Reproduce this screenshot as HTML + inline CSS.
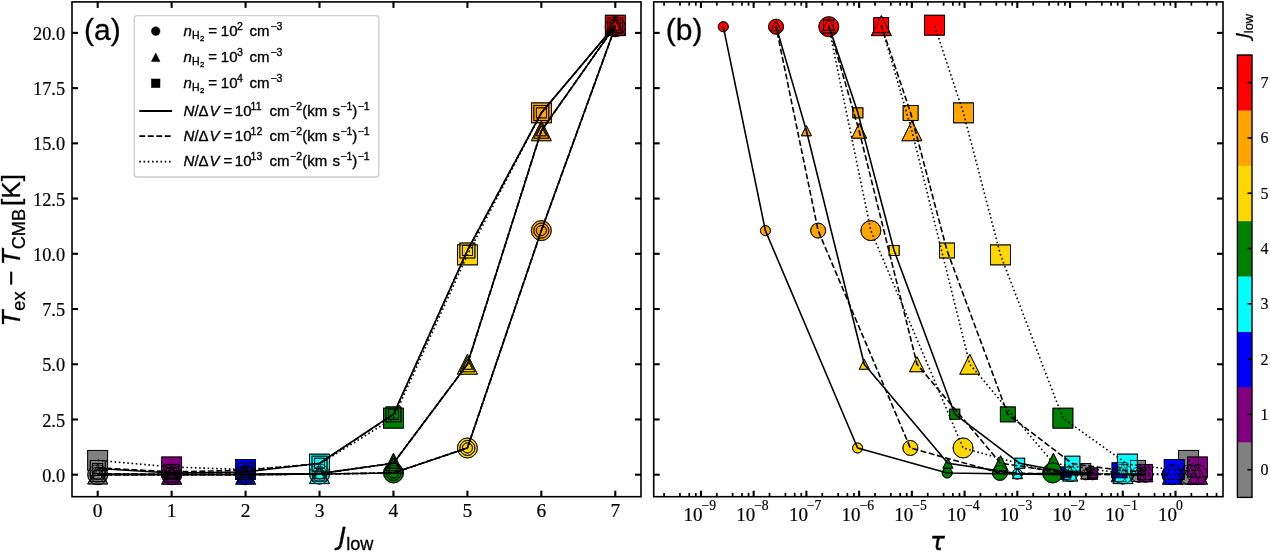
<!DOCTYPE html>
<html lang="en"><head><meta charset="utf-8"><title>T_ex - T_CMB vs J_low and tau</title>
<style>html,body{margin:0;padding:0;background:#fff;}svg{display:block;}.tk{font-family:"Liberation Serif", "DejaVu Serif", serif;font-size:19.5px;fill:#000;stroke:#000;stroke-width:0.2px;}.ck{font-family:"Liberation Serif", "DejaVu Serif", serif;font-size:16px;fill:#000;stroke:#000;stroke-width:0.15px;}.sn{font-family:"Liberation Sans", "DejaVu Sans", sans-serif;fill:#000;}.i{font-style:italic;}.dj{font-family:"DejaVu Sans", sans-serif;font-style:italic;stroke:none;}</style></head><body>
<svg width="1270" height="553" viewBox="0 0 1270 553" role="img" aria-label="Excitation temperature versus J_low and optical depth">
<rect x="0" y="0" width="1270" height="553" fill="#fff"/>
<defs>
<clipPath id="ca"><rect x="72.0" y="1.9" width="569.0" height="494.8"/></clipPath>
<clipPath id="cb"><rect x="653.7" y="1.9" width="569.3" height="494.8"/></clipPath>
</defs>
<g clip-path="url(#ca)">
<circle cx="97.70" cy="474.70" r="10.00" fill="#808080" stroke="#000" stroke-width="0.75"/>
<circle cx="97.70" cy="474.70" r="7.50" fill="#808080" stroke="#000" stroke-width="0.75"/>
<circle cx="97.70" cy="474.70" r="5.05" fill="#808080" stroke="#000" stroke-width="0.75"/>
<circle cx="171.64" cy="474.70" r="10.00" fill="#800080" stroke="#000" stroke-width="0.75"/>
<circle cx="171.64" cy="474.70" r="7.50" fill="#800080" stroke="#000" stroke-width="0.75"/>
<circle cx="171.64" cy="474.70" r="5.05" fill="#800080" stroke="#000" stroke-width="0.75"/>
<circle cx="245.58" cy="474.70" r="10.00" fill="#0000ff" stroke="#000" stroke-width="0.75"/>
<circle cx="245.58" cy="474.70" r="7.50" fill="#0000ff" stroke="#000" stroke-width="0.75"/>
<circle cx="245.58" cy="474.70" r="5.05" fill="#0000ff" stroke="#000" stroke-width="0.75"/>
<circle cx="319.52" cy="474.04" r="10.00" fill="#00ffff" stroke="#000" stroke-width="0.75"/>
<circle cx="319.52" cy="474.04" r="7.50" fill="#00ffff" stroke="#000" stroke-width="0.75"/>
<circle cx="319.52" cy="474.04" r="5.05" fill="#00ffff" stroke="#000" stroke-width="0.75"/>
<circle cx="393.46" cy="472.93" r="10.00" fill="#008000" stroke="#000" stroke-width="0.75"/>
<circle cx="393.46" cy="472.93" r="7.50" fill="#008000" stroke="#000" stroke-width="0.75"/>
<circle cx="393.46" cy="472.93" r="5.05" fill="#008000" stroke="#000" stroke-width="0.75"/>
<circle cx="467.40" cy="447.97" r="10.00" fill="#ffd700" stroke="#000" stroke-width="0.75"/>
<circle cx="467.40" cy="447.97" r="7.50" fill="#ffd700" stroke="#000" stroke-width="0.75"/>
<circle cx="467.40" cy="447.97" r="5.05" fill="#ffd700" stroke="#000" stroke-width="0.75"/>
<circle cx="541.34" cy="230.61" r="10.00" fill="#ffa500" stroke="#000" stroke-width="0.75"/>
<circle cx="541.34" cy="230.61" r="7.50" fill="#ffa500" stroke="#000" stroke-width="0.75"/>
<circle cx="541.34" cy="230.61" r="5.05" fill="#ffa500" stroke="#000" stroke-width="0.75"/>
<circle cx="615.28" cy="26.71" r="10.00" fill="#ff0000" stroke="#000" stroke-width="0.75"/>
<circle cx="615.28" cy="26.71" r="7.50" fill="#ff0000" stroke="#000" stroke-width="0.75"/>
<circle cx="615.28" cy="26.71" r="5.05" fill="#ff0000" stroke="#000" stroke-width="0.75"/>
<path d="M97.70 464.04L87.70 484.04L107.70 484.04Z" fill="#808080" stroke="#000" stroke-width="0.75" stroke-linejoin="miter"/>
<path d="M97.70 466.54L90.20 481.54L105.20 481.54Z" fill="#808080" stroke="#000" stroke-width="0.75" stroke-linejoin="miter"/>
<path d="M97.70 468.99L92.65 479.09L102.75 479.09Z" fill="#808080" stroke="#000" stroke-width="0.75" stroke-linejoin="miter"/>
<path d="M171.64 464.26L161.64 484.26L181.64 484.26Z" fill="#800080" stroke="#000" stroke-width="0.75" stroke-linejoin="miter"/>
<path d="M171.64 466.76L164.14 481.76L179.14 481.76Z" fill="#800080" stroke="#000" stroke-width="0.75" stroke-linejoin="miter"/>
<path d="M171.64 469.21L166.59 479.31L176.69 479.31Z" fill="#800080" stroke="#000" stroke-width="0.75" stroke-linejoin="miter"/>
<path d="M245.58 464.26L235.58 484.26L255.58 484.26Z" fill="#0000ff" stroke="#000" stroke-width="0.75" stroke-linejoin="miter"/>
<path d="M245.58 466.76L238.08 481.76L253.08 481.76Z" fill="#0000ff" stroke="#000" stroke-width="0.75" stroke-linejoin="miter"/>
<path d="M245.58 469.21L240.53 479.31L250.63 479.31Z" fill="#0000ff" stroke="#000" stroke-width="0.75" stroke-linejoin="miter"/>
<path d="M319.52 463.60L309.52 483.60L329.52 483.60Z" fill="#00ffff" stroke="#000" stroke-width="0.75" stroke-linejoin="miter"/>
<path d="M319.52 466.10L312.02 481.10L327.02 481.10Z" fill="#00ffff" stroke="#000" stroke-width="0.75" stroke-linejoin="miter"/>
<path d="M319.52 468.55L314.47 478.65L324.57 478.65Z" fill="#00ffff" stroke="#000" stroke-width="0.75" stroke-linejoin="miter"/>
<path d="M393.46 453.21L383.46 473.21L403.46 473.21Z" fill="#008000" stroke="#000" stroke-width="0.75" stroke-linejoin="miter"/>
<path d="M393.46 455.71L385.96 470.71L400.96 470.71Z" fill="#008000" stroke="#000" stroke-width="0.75" stroke-linejoin="miter"/>
<path d="M393.46 458.16L388.41 468.26L398.51 468.26Z" fill="#008000" stroke="#000" stroke-width="0.75" stroke-linejoin="miter"/>
<path d="M467.40 354.25L457.40 374.25L477.40 374.25Z" fill="#ffd700" stroke="#000" stroke-width="0.75" stroke-linejoin="miter"/>
<path d="M467.40 356.75L459.90 371.75L474.90 371.75Z" fill="#ffd700" stroke="#000" stroke-width="0.75" stroke-linejoin="miter"/>
<path d="M467.40 359.20L462.35 369.30L472.45 369.30Z" fill="#ffd700" stroke="#000" stroke-width="0.75" stroke-linejoin="miter"/>
<path d="M541.34 120.76L531.34 140.76L551.34 140.76Z" fill="#ffa500" stroke="#000" stroke-width="0.75" stroke-linejoin="miter"/>
<path d="M541.34 123.26L533.84 138.26L548.84 138.26Z" fill="#ffa500" stroke="#000" stroke-width="0.75" stroke-linejoin="miter"/>
<path d="M541.34 125.71L536.29 135.81L546.39 135.81Z" fill="#ffa500" stroke="#000" stroke-width="0.75" stroke-linejoin="miter"/>
<path d="M615.28 15.61L605.28 35.61L625.28 35.61Z" fill="#ff0000" stroke="#000" stroke-width="0.75" stroke-linejoin="miter"/>
<path d="M615.28 18.11L607.78 33.11L622.78 33.11Z" fill="#ff0000" stroke="#000" stroke-width="0.75" stroke-linejoin="miter"/>
<path d="M615.28 20.56L610.23 30.66L620.33 30.66Z" fill="#ff0000" stroke="#000" stroke-width="0.75" stroke-linejoin="miter"/>
<rect x="87.70" y="450.34" width="20.00" height="20.00" fill="#808080" stroke="#000" stroke-width="0.75"/>
<rect x="90.20" y="460.35" width="15.00" height="15.00" fill="#808080" stroke="#000" stroke-width="0.75"/>
<rect x="92.65" y="463.46" width="10.10" height="10.10" fill="#808080" stroke="#000" stroke-width="0.75"/>
<rect x="161.64" y="456.97" width="20.00" height="20.00" fill="#800080" stroke="#000" stroke-width="0.75"/>
<rect x="164.14" y="464.33" width="15.00" height="15.00" fill="#800080" stroke="#000" stroke-width="0.75"/>
<rect x="166.59" y="467.88" width="10.10" height="10.10" fill="#800080" stroke="#000" stroke-width="0.75"/>
<rect x="235.58" y="459.62" width="20.00" height="20.00" fill="#0000ff" stroke="#000" stroke-width="0.75"/>
<rect x="238.08" y="462.78" width="15.00" height="15.00" fill="#0000ff" stroke="#000" stroke-width="0.75"/>
<rect x="240.53" y="467.00" width="10.10" height="10.10" fill="#0000ff" stroke="#000" stroke-width="0.75"/>
<rect x="309.52" y="454.10" width="20.00" height="20.00" fill="#00ffff" stroke="#000" stroke-width="0.75"/>
<rect x="312.02" y="456.15" width="15.00" height="15.00" fill="#00ffff" stroke="#000" stroke-width="0.75"/>
<rect x="314.47" y="458.16" width="10.10" height="10.10" fill="#00ffff" stroke="#000" stroke-width="0.75"/>
<rect x="383.46" y="408.15" width="20.00" height="20.00" fill="#008000" stroke="#000" stroke-width="0.75"/>
<rect x="385.96" y="406.89" width="15.00" height="15.00" fill="#008000" stroke="#000" stroke-width="0.75"/>
<rect x="388.41" y="409.12" width="10.10" height="10.10" fill="#008000" stroke="#000" stroke-width="0.75"/>
<rect x="457.40" y="244.90" width="20.00" height="20.00" fill="#ffd700" stroke="#000" stroke-width="0.75"/>
<rect x="459.90" y="242.99" width="15.00" height="15.00" fill="#ffd700" stroke="#000" stroke-width="0.75"/>
<rect x="462.35" y="245.44" width="10.10" height="10.10" fill="#ffd700" stroke="#000" stroke-width="0.75"/>
<rect x="531.34" y="102.87" width="20.00" height="20.00" fill="#ffa500" stroke="#000" stroke-width="0.75"/>
<rect x="533.84" y="105.37" width="15.00" height="15.00" fill="#ffa500" stroke="#000" stroke-width="0.75"/>
<rect x="536.29" y="107.82" width="10.10" height="10.10" fill="#ffa500" stroke="#000" stroke-width="0.75"/>
<rect x="605.28" y="15.17" width="20.00" height="20.00" fill="#ff0000" stroke="#000" stroke-width="0.75"/>
<rect x="607.78" y="17.67" width="15.00" height="15.00" fill="#ff0000" stroke="#000" stroke-width="0.75"/>
<rect x="610.23" y="20.12" width="10.10" height="10.10" fill="#ff0000" stroke="#000" stroke-width="0.75"/>
<circle cx="97.70" cy="474.70" r="10.00" fill="none" stroke="#000" stroke-width="0.75"/>
<circle cx="97.70" cy="474.70" r="7.50" fill="none" stroke="#000" stroke-width="0.75"/>
<circle cx="97.70" cy="474.70" r="5.05" fill="none" stroke="#000" stroke-width="0.75"/>
<circle cx="171.64" cy="474.70" r="10.00" fill="none" stroke="#000" stroke-width="0.75"/>
<circle cx="171.64" cy="474.70" r="7.50" fill="none" stroke="#000" stroke-width="0.75"/>
<circle cx="171.64" cy="474.70" r="5.05" fill="none" stroke="#000" stroke-width="0.75"/>
<circle cx="245.58" cy="474.70" r="10.00" fill="none" stroke="#000" stroke-width="0.75"/>
<circle cx="245.58" cy="474.70" r="7.50" fill="none" stroke="#000" stroke-width="0.75"/>
<circle cx="245.58" cy="474.70" r="5.05" fill="none" stroke="#000" stroke-width="0.75"/>
<circle cx="319.52" cy="474.04" r="10.00" fill="none" stroke="#000" stroke-width="0.75"/>
<circle cx="319.52" cy="474.04" r="7.50" fill="none" stroke="#000" stroke-width="0.75"/>
<circle cx="319.52" cy="474.04" r="5.05" fill="none" stroke="#000" stroke-width="0.75"/>
<circle cx="393.46" cy="472.93" r="10.00" fill="none" stroke="#000" stroke-width="0.75"/>
<circle cx="393.46" cy="472.93" r="7.50" fill="none" stroke="#000" stroke-width="0.75"/>
<circle cx="393.46" cy="472.93" r="5.05" fill="none" stroke="#000" stroke-width="0.75"/>
<circle cx="467.40" cy="447.97" r="10.00" fill="none" stroke="#000" stroke-width="0.75"/>
<circle cx="467.40" cy="447.97" r="7.50" fill="none" stroke="#000" stroke-width="0.75"/>
<circle cx="467.40" cy="447.97" r="5.05" fill="none" stroke="#000" stroke-width="0.75"/>
<circle cx="541.34" cy="230.61" r="10.00" fill="none" stroke="#000" stroke-width="0.75"/>
<circle cx="541.34" cy="230.61" r="7.50" fill="none" stroke="#000" stroke-width="0.75"/>
<circle cx="541.34" cy="230.61" r="5.05" fill="none" stroke="#000" stroke-width="0.75"/>
<circle cx="615.28" cy="26.71" r="10.00" fill="none" stroke="#000" stroke-width="0.75"/>
<circle cx="615.28" cy="26.71" r="7.50" fill="none" stroke="#000" stroke-width="0.75"/>
<circle cx="615.28" cy="26.71" r="5.05" fill="none" stroke="#000" stroke-width="0.75"/>
<path d="M97.70 464.04L87.70 484.04L107.70 484.04Z" fill="none" stroke="#000" stroke-width="0.75" stroke-linejoin="miter"/>
<path d="M97.70 466.54L90.20 481.54L105.20 481.54Z" fill="none" stroke="#000" stroke-width="0.75" stroke-linejoin="miter"/>
<path d="M97.70 468.99L92.65 479.09L102.75 479.09Z" fill="none" stroke="#000" stroke-width="0.75" stroke-linejoin="miter"/>
<path d="M171.64 464.26L161.64 484.26L181.64 484.26Z" fill="none" stroke="#000" stroke-width="0.75" stroke-linejoin="miter"/>
<path d="M171.64 466.76L164.14 481.76L179.14 481.76Z" fill="none" stroke="#000" stroke-width="0.75" stroke-linejoin="miter"/>
<path d="M171.64 469.21L166.59 479.31L176.69 479.31Z" fill="none" stroke="#000" stroke-width="0.75" stroke-linejoin="miter"/>
<path d="M245.58 464.26L235.58 484.26L255.58 484.26Z" fill="none" stroke="#000" stroke-width="0.75" stroke-linejoin="miter"/>
<path d="M245.58 466.76L238.08 481.76L253.08 481.76Z" fill="none" stroke="#000" stroke-width="0.75" stroke-linejoin="miter"/>
<path d="M245.58 469.21L240.53 479.31L250.63 479.31Z" fill="none" stroke="#000" stroke-width="0.75" stroke-linejoin="miter"/>
<path d="M319.52 463.60L309.52 483.60L329.52 483.60Z" fill="none" stroke="#000" stroke-width="0.75" stroke-linejoin="miter"/>
<path d="M319.52 466.10L312.02 481.10L327.02 481.10Z" fill="none" stroke="#000" stroke-width="0.75" stroke-linejoin="miter"/>
<path d="M319.52 468.55L314.47 478.65L324.57 478.65Z" fill="none" stroke="#000" stroke-width="0.75" stroke-linejoin="miter"/>
<path d="M393.46 453.21L383.46 473.21L403.46 473.21Z" fill="none" stroke="#000" stroke-width="0.75" stroke-linejoin="miter"/>
<path d="M393.46 455.71L385.96 470.71L400.96 470.71Z" fill="none" stroke="#000" stroke-width="0.75" stroke-linejoin="miter"/>
<path d="M393.46 458.16L388.41 468.26L398.51 468.26Z" fill="none" stroke="#000" stroke-width="0.75" stroke-linejoin="miter"/>
<path d="M467.40 354.25L457.40 374.25L477.40 374.25Z" fill="none" stroke="#000" stroke-width="0.75" stroke-linejoin="miter"/>
<path d="M467.40 356.75L459.90 371.75L474.90 371.75Z" fill="none" stroke="#000" stroke-width="0.75" stroke-linejoin="miter"/>
<path d="M467.40 359.20L462.35 369.30L472.45 369.30Z" fill="none" stroke="#000" stroke-width="0.75" stroke-linejoin="miter"/>
<path d="M541.34 120.76L531.34 140.76L551.34 140.76Z" fill="none" stroke="#000" stroke-width="0.75" stroke-linejoin="miter"/>
<path d="M541.34 123.26L533.84 138.26L548.84 138.26Z" fill="none" stroke="#000" stroke-width="0.75" stroke-linejoin="miter"/>
<path d="M541.34 125.71L536.29 135.81L546.39 135.81Z" fill="none" stroke="#000" stroke-width="0.75" stroke-linejoin="miter"/>
<path d="M615.28 15.61L605.28 35.61L625.28 35.61Z" fill="none" stroke="#000" stroke-width="0.75" stroke-linejoin="miter"/>
<path d="M615.28 18.11L607.78 33.11L622.78 33.11Z" fill="none" stroke="#000" stroke-width="0.75" stroke-linejoin="miter"/>
<path d="M615.28 20.56L610.23 30.66L620.33 30.66Z" fill="none" stroke="#000" stroke-width="0.75" stroke-linejoin="miter"/>
<rect x="87.70" y="450.34" width="20.00" height="20.00" fill="none" stroke="#000" stroke-width="0.75"/>
<rect x="90.20" y="460.35" width="15.00" height="15.00" fill="none" stroke="#000" stroke-width="0.75"/>
<rect x="92.65" y="463.46" width="10.10" height="10.10" fill="none" stroke="#000" stroke-width="0.75"/>
<rect x="161.64" y="456.97" width="20.00" height="20.00" fill="none" stroke="#000" stroke-width="0.75"/>
<rect x="164.14" y="464.33" width="15.00" height="15.00" fill="none" stroke="#000" stroke-width="0.75"/>
<rect x="166.59" y="467.88" width="10.10" height="10.10" fill="none" stroke="#000" stroke-width="0.75"/>
<rect x="235.58" y="459.62" width="20.00" height="20.00" fill="none" stroke="#000" stroke-width="0.75"/>
<rect x="238.08" y="462.78" width="15.00" height="15.00" fill="none" stroke="#000" stroke-width="0.75"/>
<rect x="240.53" y="467.00" width="10.10" height="10.10" fill="none" stroke="#000" stroke-width="0.75"/>
<rect x="309.52" y="454.10" width="20.00" height="20.00" fill="none" stroke="#000" stroke-width="0.75"/>
<rect x="312.02" y="456.15" width="15.00" height="15.00" fill="none" stroke="#000" stroke-width="0.75"/>
<rect x="314.47" y="458.16" width="10.10" height="10.10" fill="none" stroke="#000" stroke-width="0.75"/>
<rect x="383.46" y="408.15" width="20.00" height="20.00" fill="none" stroke="#000" stroke-width="0.75"/>
<rect x="385.96" y="406.89" width="15.00" height="15.00" fill="none" stroke="#000" stroke-width="0.75"/>
<rect x="388.41" y="409.12" width="10.10" height="10.10" fill="none" stroke="#000" stroke-width="0.75"/>
<rect x="457.40" y="244.90" width="20.00" height="20.00" fill="none" stroke="#000" stroke-width="0.75"/>
<rect x="459.90" y="242.99" width="15.00" height="15.00" fill="none" stroke="#000" stroke-width="0.75"/>
<rect x="462.35" y="245.44" width="10.10" height="10.10" fill="none" stroke="#000" stroke-width="0.75"/>
<rect x="531.34" y="102.87" width="20.00" height="20.00" fill="none" stroke="#000" stroke-width="0.75"/>
<rect x="533.84" y="105.37" width="15.00" height="15.00" fill="none" stroke="#000" stroke-width="0.75"/>
<rect x="536.29" y="107.82" width="10.10" height="10.10" fill="none" stroke="#000" stroke-width="0.75"/>
<rect x="605.28" y="15.17" width="20.00" height="20.00" fill="none" stroke="#000" stroke-width="0.75"/>
<rect x="607.78" y="17.67" width="15.00" height="15.00" fill="none" stroke="#000" stroke-width="0.75"/>
<rect x="610.23" y="20.12" width="10.10" height="10.10" fill="none" stroke="#000" stroke-width="0.75"/>
<polyline points="97.70,474.70 171.64,474.70 245.58,474.70 319.52,474.04 393.46,472.93 467.40,447.97 541.34,230.61 615.28,26.71" fill="none" stroke="#000" stroke-width="1.6" stroke-linejoin="round"/>
<polyline points="97.70,474.70 171.64,474.70 245.58,474.70 319.52,474.04 393.46,472.93 467.40,447.97 541.34,230.61 615.28,26.71" fill="none" stroke="#000" stroke-width="1.6" stroke-linejoin="round" stroke-dasharray="5.92 2.56"/>
<polyline points="97.70,474.70 171.64,474.70 245.58,474.70 319.52,474.04 393.46,472.93 467.40,447.97 541.34,230.61 615.28,26.71" fill="none" stroke="#000" stroke-width="1.6" stroke-linejoin="round" stroke-dasharray="1.6 2.64"/>
<polyline points="97.70,474.04 171.64,474.26 245.58,474.26 319.52,473.60 393.46,463.21 467.40,364.25 541.34,130.76 615.28,25.61" fill="none" stroke="#000" stroke-width="1.6" stroke-linejoin="round"/>
<polyline points="97.70,474.04 171.64,474.26 245.58,474.26 319.52,473.60 393.46,463.21 467.40,364.25 541.34,130.76 615.28,25.61" fill="none" stroke="#000" stroke-width="1.6" stroke-linejoin="round" stroke-dasharray="5.92 2.56"/>
<polyline points="97.70,474.04 171.64,474.26 245.58,474.26 319.52,473.60 393.46,463.21 467.40,364.25 541.34,130.76 615.28,25.61" fill="none" stroke="#000" stroke-width="1.6" stroke-linejoin="round" stroke-dasharray="1.6 2.64"/>
<polyline points="97.70,468.51 171.64,472.93 245.58,472.05 319.52,463.21 393.46,414.17 467.40,250.49 541.34,112.87 615.28,25.17" fill="none" stroke="#000" stroke-width="1.6" stroke-linejoin="round"/>
<polyline points="97.70,467.85 171.64,471.83 245.58,470.28 319.52,463.65 393.46,414.39 467.40,250.49 541.34,112.87 615.28,25.17" fill="none" stroke="#000" stroke-width="1.6" stroke-linejoin="round" stroke-dasharray="5.92 2.56"/>
<polyline points="97.70,460.34 171.64,466.97 245.58,469.62 319.52,464.10 393.46,418.15 467.40,254.90 541.34,112.87 615.28,25.17" fill="none" stroke="#000" stroke-width="1.6" stroke-linejoin="round" stroke-dasharray="1.6 2.64"/>
</g>
<g clip-path="url(#cb)">
<circle cx="1190.00" cy="474.70" r="10.00" fill="#808080" stroke="#000" stroke-width="0.75"/>
<circle cx="1138.43" cy="474.70" r="7.50" fill="#808080" stroke="#000" stroke-width="0.75"/>
<circle cx="1085.70" cy="474.70" r="5.05" fill="#808080" stroke="#000" stroke-width="0.75"/>
<circle cx="1197.50" cy="474.70" r="10.00" fill="#800080" stroke="#000" stroke-width="0.75"/>
<circle cx="1145.43" cy="474.70" r="7.50" fill="#800080" stroke="#000" stroke-width="0.75"/>
<circle cx="1092.70" cy="474.70" r="5.05" fill="#800080" stroke="#000" stroke-width="0.75"/>
<circle cx="1172.00" cy="474.70" r="10.00" fill="#0000ff" stroke="#000" stroke-width="0.75"/>
<circle cx="1118.73" cy="474.70" r="7.50" fill="#0000ff" stroke="#000" stroke-width="0.75"/>
<circle cx="1066.00" cy="474.70" r="5.05" fill="#0000ff" stroke="#000" stroke-width="0.75"/>
<circle cx="1122.76" cy="474.04" r="10.00" fill="#00ffff" stroke="#000" stroke-width="0.75"/>
<circle cx="1070.03" cy="474.04" r="7.50" fill="#00ffff" stroke="#000" stroke-width="0.75"/>
<circle cx="1017.30" cy="474.04" r="5.05" fill="#00ffff" stroke="#000" stroke-width="0.75"/>
<circle cx="1052.66" cy="472.93" r="10.00" fill="#008000" stroke="#000" stroke-width="0.75"/>
<circle cx="999.93" cy="472.93" r="7.50" fill="#008000" stroke="#000" stroke-width="0.75"/>
<circle cx="947.20" cy="472.93" r="5.05" fill="#008000" stroke="#000" stroke-width="0.75"/>
<circle cx="963.06" cy="447.97" r="10.00" fill="#ffd700" stroke="#000" stroke-width="0.75"/>
<circle cx="910.33" cy="447.97" r="7.50" fill="#ffd700" stroke="#000" stroke-width="0.75"/>
<circle cx="857.60" cy="447.97" r="5.05" fill="#ffd700" stroke="#000" stroke-width="0.75"/>
<circle cx="870.86" cy="230.61" r="10.00" fill="#ffa500" stroke="#000" stroke-width="0.75"/>
<circle cx="818.13" cy="230.61" r="7.50" fill="#ffa500" stroke="#000" stroke-width="0.75"/>
<circle cx="765.40" cy="230.61" r="5.05" fill="#ffa500" stroke="#000" stroke-width="0.75"/>
<circle cx="828.76" cy="26.71" r="10.00" fill="#ff0000" stroke="#000" stroke-width="0.75"/>
<circle cx="776.03" cy="26.71" r="7.50" fill="#ff0000" stroke="#000" stroke-width="0.75"/>
<circle cx="723.30" cy="26.71" r="5.05" fill="#ff0000" stroke="#000" stroke-width="0.75"/>
<path d="M1190.00 464.04L1180.00 484.04L1200.00 484.04Z" fill="#808080" stroke="#000" stroke-width="0.75" stroke-linejoin="miter"/>
<path d="M1138.43 466.54L1130.93 481.54L1145.93 481.54Z" fill="#808080" stroke="#000" stroke-width="0.75" stroke-linejoin="miter"/>
<path d="M1085.70 468.99L1080.65 479.09L1090.75 479.09Z" fill="#808080" stroke="#000" stroke-width="0.75" stroke-linejoin="miter"/>
<path d="M1197.50 464.26L1187.50 484.26L1207.50 484.26Z" fill="#800080" stroke="#000" stroke-width="0.75" stroke-linejoin="miter"/>
<path d="M1145.43 466.76L1137.93 481.76L1152.93 481.76Z" fill="#800080" stroke="#000" stroke-width="0.75" stroke-linejoin="miter"/>
<path d="M1092.70 469.21L1087.65 479.31L1097.75 479.31Z" fill="#800080" stroke="#000" stroke-width="0.75" stroke-linejoin="miter"/>
<path d="M1172.50 464.26L1162.50 484.26L1182.50 484.26Z" fill="#0000ff" stroke="#000" stroke-width="0.75" stroke-linejoin="miter"/>
<path d="M1118.73 466.76L1111.23 481.76L1126.23 481.76Z" fill="#0000ff" stroke="#000" stroke-width="0.75" stroke-linejoin="miter"/>
<path d="M1066.00 469.21L1060.95 479.31L1071.05 479.31Z" fill="#0000ff" stroke="#000" stroke-width="0.75" stroke-linejoin="miter"/>
<path d="M1122.96 463.60L1112.96 483.60L1132.96 483.60Z" fill="#00ffff" stroke="#000" stroke-width="0.75" stroke-linejoin="miter"/>
<path d="M1070.23 466.10L1062.73 481.10L1077.73 481.10Z" fill="#00ffff" stroke="#000" stroke-width="0.75" stroke-linejoin="miter"/>
<path d="M1017.50 468.55L1012.45 478.65L1022.55 478.65Z" fill="#00ffff" stroke="#000" stroke-width="0.75" stroke-linejoin="miter"/>
<path d="M1053.36 453.21L1043.36 473.21L1063.36 473.21Z" fill="#008000" stroke="#000" stroke-width="0.75" stroke-linejoin="miter"/>
<path d="M1000.63 455.71L993.13 470.71L1008.13 470.71Z" fill="#008000" stroke="#000" stroke-width="0.75" stroke-linejoin="miter"/>
<path d="M947.90 458.16L942.85 468.26L952.95 468.26Z" fill="#008000" stroke="#000" stroke-width="0.75" stroke-linejoin="miter"/>
<path d="M969.76 354.25L959.76 374.25L979.76 374.25Z" fill="#ffd700" stroke="#000" stroke-width="0.75" stroke-linejoin="miter"/>
<path d="M917.03 356.75L909.53 371.75L924.53 371.75Z" fill="#ffd700" stroke="#000" stroke-width="0.75" stroke-linejoin="miter"/>
<path d="M864.30 359.20L859.25 369.30L869.35 369.30Z" fill="#ffd700" stroke="#000" stroke-width="0.75" stroke-linejoin="miter"/>
<path d="M911.86 120.76L901.86 140.76L921.86 140.76Z" fill="#ffa500" stroke="#000" stroke-width="0.75" stroke-linejoin="miter"/>
<path d="M859.13 123.26L851.63 138.26L866.63 138.26Z" fill="#ffa500" stroke="#000" stroke-width="0.75" stroke-linejoin="miter"/>
<path d="M806.40 125.71L801.35 135.81L811.45 135.81Z" fill="#ffa500" stroke="#000" stroke-width="0.75" stroke-linejoin="miter"/>
<path d="M881.36 15.61L871.36 35.61L891.36 35.61Z" fill="#ff0000" stroke="#000" stroke-width="0.75" stroke-linejoin="miter"/>
<path d="M828.63 18.11L821.13 33.11L836.13 33.11Z" fill="#ff0000" stroke="#000" stroke-width="0.75" stroke-linejoin="miter"/>
<path d="M775.90 20.56L770.85 30.66L780.95 30.66Z" fill="#ff0000" stroke="#000" stroke-width="0.75" stroke-linejoin="miter"/>
<rect x="1178.60" y="450.34" width="20.00" height="20.00" fill="#808080" stroke="#000" stroke-width="0.75"/>
<rect x="1130.60" y="460.35" width="15.00" height="15.00" fill="#808080" stroke="#000" stroke-width="0.75"/>
<rect x="1080.65" y="463.46" width="10.10" height="10.10" fill="#808080" stroke="#000" stroke-width="0.75"/>
<rect x="1187.50" y="456.97" width="20.00" height="20.00" fill="#800080" stroke="#000" stroke-width="0.75"/>
<rect x="1137.60" y="464.33" width="15.00" height="15.00" fill="#800080" stroke="#000" stroke-width="0.75"/>
<rect x="1087.65" y="467.88" width="10.10" height="10.10" fill="#800080" stroke="#000" stroke-width="0.75"/>
<rect x="1164.20" y="459.62" width="20.00" height="20.00" fill="#0000ff" stroke="#000" stroke-width="0.75"/>
<rect x="1112.00" y="462.78" width="15.00" height="15.00" fill="#0000ff" stroke="#000" stroke-width="0.75"/>
<rect x="1060.95" y="467.00" width="10.10" height="10.10" fill="#0000ff" stroke="#000" stroke-width="0.75"/>
<rect x="1117.30" y="454.10" width="20.00" height="20.00" fill="#00ffff" stroke="#000" stroke-width="0.75"/>
<rect x="1064.90" y="456.15" width="15.00" height="15.00" fill="#00ffff" stroke="#000" stroke-width="0.75"/>
<rect x="1014.65" y="458.16" width="10.10" height="10.10" fill="#00ffff" stroke="#000" stroke-width="0.75"/>
<rect x="1052.90" y="408.15" width="20.00" height="20.00" fill="#008000" stroke="#000" stroke-width="0.75"/>
<rect x="1000.30" y="406.89" width="15.00" height="15.00" fill="#008000" stroke="#000" stroke-width="0.75"/>
<rect x="949.75" y="409.12" width="10.10" height="10.10" fill="#008000" stroke="#000" stroke-width="0.75"/>
<rect x="990.50" y="244.90" width="20.00" height="20.00" fill="#ffd700" stroke="#000" stroke-width="0.75"/>
<rect x="939.50" y="242.99" width="15.00" height="15.00" fill="#ffd700" stroke="#000" stroke-width="0.75"/>
<rect x="889.05" y="245.44" width="10.10" height="10.10" fill="#ffd700" stroke="#000" stroke-width="0.75"/>
<rect x="953.40" y="102.87" width="20.00" height="20.00" fill="#ffa500" stroke="#000" stroke-width="0.75"/>
<rect x="903.10" y="105.37" width="15.00" height="15.00" fill="#ffa500" stroke="#000" stroke-width="0.75"/>
<rect x="852.85" y="107.82" width="10.10" height="10.10" fill="#ffa500" stroke="#000" stroke-width="0.75"/>
<rect x="924.40" y="15.17" width="20.00" height="20.00" fill="#ff0000" stroke="#000" stroke-width="0.75"/>
<rect x="873.70" y="17.67" width="15.00" height="15.00" fill="#ff0000" stroke="#000" stroke-width="0.75"/>
<rect x="823.55" y="20.12" width="10.10" height="10.10" fill="#ff0000" stroke="#000" stroke-width="0.75"/>
<circle cx="1190.00" cy="474.70" r="10.00" fill="none" stroke="#000" stroke-width="0.75"/>
<circle cx="1138.43" cy="474.70" r="7.50" fill="none" stroke="#000" stroke-width="0.75"/>
<circle cx="1085.70" cy="474.70" r="5.05" fill="none" stroke="#000" stroke-width="0.75"/>
<circle cx="1197.50" cy="474.70" r="10.00" fill="none" stroke="#000" stroke-width="0.75"/>
<circle cx="1145.43" cy="474.70" r="7.50" fill="none" stroke="#000" stroke-width="0.75"/>
<circle cx="1092.70" cy="474.70" r="5.05" fill="none" stroke="#000" stroke-width="0.75"/>
<circle cx="1172.00" cy="474.70" r="10.00" fill="none" stroke="#000" stroke-width="0.75"/>
<circle cx="1118.73" cy="474.70" r="7.50" fill="none" stroke="#000" stroke-width="0.75"/>
<circle cx="1066.00" cy="474.70" r="5.05" fill="none" stroke="#000" stroke-width="0.75"/>
<circle cx="1122.76" cy="474.04" r="10.00" fill="none" stroke="#000" stroke-width="0.75"/>
<circle cx="1070.03" cy="474.04" r="7.50" fill="none" stroke="#000" stroke-width="0.75"/>
<circle cx="1017.30" cy="474.04" r="5.05" fill="none" stroke="#000" stroke-width="0.75"/>
<circle cx="1052.66" cy="472.93" r="10.00" fill="none" stroke="#000" stroke-width="0.75"/>
<circle cx="999.93" cy="472.93" r="7.50" fill="none" stroke="#000" stroke-width="0.75"/>
<circle cx="947.20" cy="472.93" r="5.05" fill="none" stroke="#000" stroke-width="0.75"/>
<circle cx="963.06" cy="447.97" r="10.00" fill="none" stroke="#000" stroke-width="0.75"/>
<circle cx="910.33" cy="447.97" r="7.50" fill="none" stroke="#000" stroke-width="0.75"/>
<circle cx="857.60" cy="447.97" r="5.05" fill="none" stroke="#000" stroke-width="0.75"/>
<circle cx="870.86" cy="230.61" r="10.00" fill="none" stroke="#000" stroke-width="0.75"/>
<circle cx="818.13" cy="230.61" r="7.50" fill="none" stroke="#000" stroke-width="0.75"/>
<circle cx="765.40" cy="230.61" r="5.05" fill="none" stroke="#000" stroke-width="0.75"/>
<circle cx="828.76" cy="26.71" r="10.00" fill="none" stroke="#000" stroke-width="0.75"/>
<circle cx="776.03" cy="26.71" r="7.50" fill="none" stroke="#000" stroke-width="0.75"/>
<circle cx="723.30" cy="26.71" r="5.05" fill="none" stroke="#000" stroke-width="0.75"/>
<path d="M1190.00 464.04L1180.00 484.04L1200.00 484.04Z" fill="none" stroke="#000" stroke-width="0.75" stroke-linejoin="miter"/>
<path d="M1138.43 466.54L1130.93 481.54L1145.93 481.54Z" fill="none" stroke="#000" stroke-width="0.75" stroke-linejoin="miter"/>
<path d="M1085.70 468.99L1080.65 479.09L1090.75 479.09Z" fill="none" stroke="#000" stroke-width="0.75" stroke-linejoin="miter"/>
<path d="M1197.50 464.26L1187.50 484.26L1207.50 484.26Z" fill="none" stroke="#000" stroke-width="0.75" stroke-linejoin="miter"/>
<path d="M1145.43 466.76L1137.93 481.76L1152.93 481.76Z" fill="none" stroke="#000" stroke-width="0.75" stroke-linejoin="miter"/>
<path d="M1092.70 469.21L1087.65 479.31L1097.75 479.31Z" fill="none" stroke="#000" stroke-width="0.75" stroke-linejoin="miter"/>
<path d="M1172.50 464.26L1162.50 484.26L1182.50 484.26Z" fill="none" stroke="#000" stroke-width="0.75" stroke-linejoin="miter"/>
<path d="M1118.73 466.76L1111.23 481.76L1126.23 481.76Z" fill="none" stroke="#000" stroke-width="0.75" stroke-linejoin="miter"/>
<path d="M1066.00 469.21L1060.95 479.31L1071.05 479.31Z" fill="none" stroke="#000" stroke-width="0.75" stroke-linejoin="miter"/>
<path d="M1122.96 463.60L1112.96 483.60L1132.96 483.60Z" fill="none" stroke="#000" stroke-width="0.75" stroke-linejoin="miter"/>
<path d="M1070.23 466.10L1062.73 481.10L1077.73 481.10Z" fill="none" stroke="#000" stroke-width="0.75" stroke-linejoin="miter"/>
<path d="M1017.50 468.55L1012.45 478.65L1022.55 478.65Z" fill="none" stroke="#000" stroke-width="0.75" stroke-linejoin="miter"/>
<path d="M1053.36 453.21L1043.36 473.21L1063.36 473.21Z" fill="none" stroke="#000" stroke-width="0.75" stroke-linejoin="miter"/>
<path d="M1000.63 455.71L993.13 470.71L1008.13 470.71Z" fill="none" stroke="#000" stroke-width="0.75" stroke-linejoin="miter"/>
<path d="M947.90 458.16L942.85 468.26L952.95 468.26Z" fill="none" stroke="#000" stroke-width="0.75" stroke-linejoin="miter"/>
<path d="M969.76 354.25L959.76 374.25L979.76 374.25Z" fill="none" stroke="#000" stroke-width="0.75" stroke-linejoin="miter"/>
<path d="M917.03 356.75L909.53 371.75L924.53 371.75Z" fill="none" stroke="#000" stroke-width="0.75" stroke-linejoin="miter"/>
<path d="M864.30 359.20L859.25 369.30L869.35 369.30Z" fill="none" stroke="#000" stroke-width="0.75" stroke-linejoin="miter"/>
<path d="M911.86 120.76L901.86 140.76L921.86 140.76Z" fill="none" stroke="#000" stroke-width="0.75" stroke-linejoin="miter"/>
<path d="M859.13 123.26L851.63 138.26L866.63 138.26Z" fill="none" stroke="#000" stroke-width="0.75" stroke-linejoin="miter"/>
<path d="M806.40 125.71L801.35 135.81L811.45 135.81Z" fill="none" stroke="#000" stroke-width="0.75" stroke-linejoin="miter"/>
<path d="M881.36 15.61L871.36 35.61L891.36 35.61Z" fill="none" stroke="#000" stroke-width="0.75" stroke-linejoin="miter"/>
<path d="M828.63 18.11L821.13 33.11L836.13 33.11Z" fill="none" stroke="#000" stroke-width="0.75" stroke-linejoin="miter"/>
<path d="M775.90 20.56L770.85 30.66L780.95 30.66Z" fill="none" stroke="#000" stroke-width="0.75" stroke-linejoin="miter"/>
<rect x="1178.60" y="450.34" width="20.00" height="20.00" fill="none" stroke="#000" stroke-width="0.75"/>
<rect x="1130.60" y="460.35" width="15.00" height="15.00" fill="none" stroke="#000" stroke-width="0.75"/>
<rect x="1080.65" y="463.46" width="10.10" height="10.10" fill="none" stroke="#000" stroke-width="0.75"/>
<rect x="1187.50" y="456.97" width="20.00" height="20.00" fill="none" stroke="#000" stroke-width="0.75"/>
<rect x="1137.60" y="464.33" width="15.00" height="15.00" fill="none" stroke="#000" stroke-width="0.75"/>
<rect x="1087.65" y="467.88" width="10.10" height="10.10" fill="none" stroke="#000" stroke-width="0.75"/>
<rect x="1164.20" y="459.62" width="20.00" height="20.00" fill="none" stroke="#000" stroke-width="0.75"/>
<rect x="1112.00" y="462.78" width="15.00" height="15.00" fill="none" stroke="#000" stroke-width="0.75"/>
<rect x="1060.95" y="467.00" width="10.10" height="10.10" fill="none" stroke="#000" stroke-width="0.75"/>
<rect x="1117.30" y="454.10" width="20.00" height="20.00" fill="none" stroke="#000" stroke-width="0.75"/>
<rect x="1064.90" y="456.15" width="15.00" height="15.00" fill="none" stroke="#000" stroke-width="0.75"/>
<rect x="1014.65" y="458.16" width="10.10" height="10.10" fill="none" stroke="#000" stroke-width="0.75"/>
<rect x="1052.90" y="408.15" width="20.00" height="20.00" fill="none" stroke="#000" stroke-width="0.75"/>
<rect x="1000.30" y="406.89" width="15.00" height="15.00" fill="none" stroke="#000" stroke-width="0.75"/>
<rect x="949.75" y="409.12" width="10.10" height="10.10" fill="none" stroke="#000" stroke-width="0.75"/>
<rect x="990.50" y="244.90" width="20.00" height="20.00" fill="none" stroke="#000" stroke-width="0.75"/>
<rect x="939.50" y="242.99" width="15.00" height="15.00" fill="none" stroke="#000" stroke-width="0.75"/>
<rect x="889.05" y="245.44" width="10.10" height="10.10" fill="none" stroke="#000" stroke-width="0.75"/>
<rect x="953.40" y="102.87" width="20.00" height="20.00" fill="none" stroke="#000" stroke-width="0.75"/>
<rect x="903.10" y="105.37" width="15.00" height="15.00" fill="none" stroke="#000" stroke-width="0.75"/>
<rect x="852.85" y="107.82" width="10.10" height="10.10" fill="none" stroke="#000" stroke-width="0.75"/>
<rect x="924.40" y="15.17" width="20.00" height="20.00" fill="none" stroke="#000" stroke-width="0.75"/>
<rect x="873.70" y="17.67" width="15.00" height="15.00" fill="none" stroke="#000" stroke-width="0.75"/>
<rect x="823.55" y="20.12" width="10.10" height="10.10" fill="none" stroke="#000" stroke-width="0.75"/>
<polyline points="1085.70,474.70 1092.70,474.70 1066.00,474.70 1017.30,474.04 947.20,472.93 857.60,447.97 765.40,230.61 723.30,26.71" fill="none" stroke="#000" stroke-width="1.6" stroke-linejoin="round"/>
<polyline points="1138.43,474.70 1145.43,474.70 1118.73,474.70 1070.03,474.04 999.93,472.93 910.33,447.97 818.13,230.61 776.03,26.71" fill="none" stroke="#000" stroke-width="1.6" stroke-linejoin="round" stroke-dasharray="5.92 2.56"/>
<polyline points="1190.00,474.70 1197.50,474.70 1172.00,474.70 1122.76,474.04 1052.66,472.93 963.06,447.97 870.86,230.61 828.76,26.71" fill="none" stroke="#000" stroke-width="1.6" stroke-linejoin="round" stroke-dasharray="1.6 2.64"/>
<polyline points="1085.70,474.04 1092.70,474.26 1066.00,474.26 1017.50,473.60 947.90,463.21 864.30,364.25 806.40,130.76 775.90,25.61" fill="none" stroke="#000" stroke-width="1.6" stroke-linejoin="round"/>
<polyline points="1138.43,474.04 1145.43,474.26 1118.73,474.26 1070.23,473.60 1000.63,463.21 917.03,364.25 859.13,130.76 828.63,25.61" fill="none" stroke="#000" stroke-width="1.6" stroke-linejoin="round" stroke-dasharray="5.92 2.56"/>
<polyline points="1190.00,474.04 1197.50,474.26 1172.50,474.26 1122.96,473.60 1053.36,463.21 969.76,364.25 911.86,130.76 881.36,25.61" fill="none" stroke="#000" stroke-width="1.6" stroke-linejoin="round" stroke-dasharray="1.6 2.64"/>
<polyline points="1085.70,468.51 1092.70,472.93 1066.00,472.05 1019.70,463.21 954.80,414.17 894.10,250.49 857.90,112.87 828.60,25.17" fill="none" stroke="#000" stroke-width="1.6" stroke-linejoin="round"/>
<polyline points="1138.10,467.85 1145.10,471.83 1119.50,470.28 1072.40,463.65 1007.80,414.39 947.00,250.49 910.60,112.87 881.20,25.17" fill="none" stroke="#000" stroke-width="1.6" stroke-linejoin="round" stroke-dasharray="5.92 2.56"/>
<polyline points="1188.60,460.34 1197.50,466.97 1174.20,469.62 1127.30,464.10 1062.90,418.15 1000.50,254.90 963.40,112.87 934.40,25.17" fill="none" stroke="#000" stroke-width="1.6" stroke-linejoin="round" stroke-dasharray="1.6 2.64"/>
</g>
<g stroke="#000" fill="none">
<line x1="97.70" y1="496.70" x2="97.70" y2="490.70" stroke-width="2.1"/>
<line x1="97.70" y1="1.90" x2="97.70" y2="7.90" stroke-width="2.1"/>
<line x1="171.64" y1="496.70" x2="171.64" y2="490.70" stroke-width="2.1"/>
<line x1="171.64" y1="1.90" x2="171.64" y2="7.90" stroke-width="2.1"/>
<line x1="245.58" y1="496.70" x2="245.58" y2="490.70" stroke-width="2.1"/>
<line x1="245.58" y1="1.90" x2="245.58" y2="7.90" stroke-width="2.1"/>
<line x1="319.52" y1="496.70" x2="319.52" y2="490.70" stroke-width="2.1"/>
<line x1="319.52" y1="1.90" x2="319.52" y2="7.90" stroke-width="2.1"/>
<line x1="393.46" y1="496.70" x2="393.46" y2="490.70" stroke-width="2.1"/>
<line x1="393.46" y1="1.90" x2="393.46" y2="7.90" stroke-width="2.1"/>
<line x1="467.40" y1="496.70" x2="467.40" y2="490.70" stroke-width="2.1"/>
<line x1="467.40" y1="1.90" x2="467.40" y2="7.90" stroke-width="2.1"/>
<line x1="541.34" y1="496.70" x2="541.34" y2="490.70" stroke-width="2.1"/>
<line x1="541.34" y1="1.90" x2="541.34" y2="7.90" stroke-width="2.1"/>
<line x1="615.28" y1="496.70" x2="615.28" y2="490.70" stroke-width="2.1"/>
<line x1="615.28" y1="1.90" x2="615.28" y2="7.90" stroke-width="2.1"/>
<line x1="72.00" y1="474.70" x2="78.00" y2="474.70" stroke-width="2.1"/>
<line x1="641.00" y1="474.70" x2="635.00" y2="474.70" stroke-width="2.1"/>
<line x1="653.70" y1="474.70" x2="659.70" y2="474.70" stroke-width="2.1"/>
<line x1="1223.00" y1="474.70" x2="1217.00" y2="474.70" stroke-width="2.1"/>
<line x1="72.00" y1="419.47" x2="78.00" y2="419.47" stroke-width="2.1"/>
<line x1="641.00" y1="419.47" x2="635.00" y2="419.47" stroke-width="2.1"/>
<line x1="653.70" y1="419.47" x2="659.70" y2="419.47" stroke-width="2.1"/>
<line x1="1223.00" y1="419.47" x2="1217.00" y2="419.47" stroke-width="2.1"/>
<line x1="72.00" y1="364.25" x2="78.00" y2="364.25" stroke-width="2.1"/>
<line x1="641.00" y1="364.25" x2="635.00" y2="364.25" stroke-width="2.1"/>
<line x1="653.70" y1="364.25" x2="659.70" y2="364.25" stroke-width="2.1"/>
<line x1="1223.00" y1="364.25" x2="1217.00" y2="364.25" stroke-width="2.1"/>
<line x1="72.00" y1="309.02" x2="78.00" y2="309.02" stroke-width="2.1"/>
<line x1="641.00" y1="309.02" x2="635.00" y2="309.02" stroke-width="2.1"/>
<line x1="653.70" y1="309.02" x2="659.70" y2="309.02" stroke-width="2.1"/>
<line x1="1223.00" y1="309.02" x2="1217.00" y2="309.02" stroke-width="2.1"/>
<line x1="72.00" y1="253.80" x2="78.00" y2="253.80" stroke-width="2.1"/>
<line x1="641.00" y1="253.80" x2="635.00" y2="253.80" stroke-width="2.1"/>
<line x1="653.70" y1="253.80" x2="659.70" y2="253.80" stroke-width="2.1"/>
<line x1="1223.00" y1="253.80" x2="1217.00" y2="253.80" stroke-width="2.1"/>
<line x1="72.00" y1="198.57" x2="78.00" y2="198.57" stroke-width="2.1"/>
<line x1="641.00" y1="198.57" x2="635.00" y2="198.57" stroke-width="2.1"/>
<line x1="653.70" y1="198.57" x2="659.70" y2="198.57" stroke-width="2.1"/>
<line x1="1223.00" y1="198.57" x2="1217.00" y2="198.57" stroke-width="2.1"/>
<line x1="72.00" y1="143.35" x2="78.00" y2="143.35" stroke-width="2.1"/>
<line x1="641.00" y1="143.35" x2="635.00" y2="143.35" stroke-width="2.1"/>
<line x1="653.70" y1="143.35" x2="659.70" y2="143.35" stroke-width="2.1"/>
<line x1="1223.00" y1="143.35" x2="1217.00" y2="143.35" stroke-width="2.1"/>
<line x1="72.00" y1="88.12" x2="78.00" y2="88.12" stroke-width="2.1"/>
<line x1="641.00" y1="88.12" x2="635.00" y2="88.12" stroke-width="2.1"/>
<line x1="653.70" y1="88.12" x2="659.70" y2="88.12" stroke-width="2.1"/>
<line x1="1223.00" y1="88.12" x2="1217.00" y2="88.12" stroke-width="2.1"/>
<line x1="72.00" y1="32.90" x2="78.00" y2="32.90" stroke-width="2.1"/>
<line x1="641.00" y1="32.90" x2="635.00" y2="32.90" stroke-width="2.1"/>
<line x1="653.70" y1="32.90" x2="659.70" y2="32.90" stroke-width="2.1"/>
<line x1="1223.00" y1="32.90" x2="1217.00" y2="32.90" stroke-width="2.1"/>
<line x1="664.07" y1="496.70" x2="664.07" y2="492.90" stroke-width="1.7"/>
<line x1="664.07" y1="1.90" x2="664.07" y2="5.70" stroke-width="1.7"/>
<line x1="679.95" y1="496.70" x2="679.95" y2="492.90" stroke-width="1.7"/>
<line x1="679.95" y1="1.90" x2="679.95" y2="5.70" stroke-width="1.7"/>
<line x1="689.23" y1="496.70" x2="689.23" y2="492.90" stroke-width="1.7"/>
<line x1="689.23" y1="1.90" x2="689.23" y2="5.70" stroke-width="1.7"/>
<line x1="695.82" y1="496.70" x2="695.82" y2="492.90" stroke-width="1.7"/>
<line x1="695.82" y1="1.90" x2="695.82" y2="5.70" stroke-width="1.7"/>
<line x1="700.93" y1="496.70" x2="700.93" y2="490.70" stroke-width="2.1"/>
<line x1="700.93" y1="1.90" x2="700.93" y2="7.90" stroke-width="2.1"/>
<line x1="716.80" y1="496.70" x2="716.80" y2="492.90" stroke-width="1.7"/>
<line x1="716.80" y1="1.90" x2="716.80" y2="5.70" stroke-width="1.7"/>
<line x1="732.68" y1="496.70" x2="732.68" y2="492.90" stroke-width="1.7"/>
<line x1="732.68" y1="1.90" x2="732.68" y2="5.70" stroke-width="1.7"/>
<line x1="741.96" y1="496.70" x2="741.96" y2="492.90" stroke-width="1.7"/>
<line x1="741.96" y1="1.90" x2="741.96" y2="5.70" stroke-width="1.7"/>
<line x1="748.55" y1="496.70" x2="748.55" y2="492.90" stroke-width="1.7"/>
<line x1="748.55" y1="1.90" x2="748.55" y2="5.70" stroke-width="1.7"/>
<line x1="753.66" y1="496.70" x2="753.66" y2="490.70" stroke-width="2.1"/>
<line x1="753.66" y1="1.90" x2="753.66" y2="7.90" stroke-width="2.1"/>
<line x1="769.53" y1="496.70" x2="769.53" y2="492.90" stroke-width="1.7"/>
<line x1="769.53" y1="1.90" x2="769.53" y2="5.70" stroke-width="1.7"/>
<line x1="785.41" y1="496.70" x2="785.41" y2="492.90" stroke-width="1.7"/>
<line x1="785.41" y1="1.90" x2="785.41" y2="5.70" stroke-width="1.7"/>
<line x1="794.69" y1="496.70" x2="794.69" y2="492.90" stroke-width="1.7"/>
<line x1="794.69" y1="1.90" x2="794.69" y2="5.70" stroke-width="1.7"/>
<line x1="801.28" y1="496.70" x2="801.28" y2="492.90" stroke-width="1.7"/>
<line x1="801.28" y1="1.90" x2="801.28" y2="5.70" stroke-width="1.7"/>
<line x1="806.39" y1="496.70" x2="806.39" y2="490.70" stroke-width="2.1"/>
<line x1="806.39" y1="1.90" x2="806.39" y2="7.90" stroke-width="2.1"/>
<line x1="822.26" y1="496.70" x2="822.26" y2="492.90" stroke-width="1.7"/>
<line x1="822.26" y1="1.90" x2="822.26" y2="5.70" stroke-width="1.7"/>
<line x1="838.14" y1="496.70" x2="838.14" y2="492.90" stroke-width="1.7"/>
<line x1="838.14" y1="1.90" x2="838.14" y2="5.70" stroke-width="1.7"/>
<line x1="847.42" y1="496.70" x2="847.42" y2="492.90" stroke-width="1.7"/>
<line x1="847.42" y1="1.90" x2="847.42" y2="5.70" stroke-width="1.7"/>
<line x1="854.01" y1="496.70" x2="854.01" y2="492.90" stroke-width="1.7"/>
<line x1="854.01" y1="1.90" x2="854.01" y2="5.70" stroke-width="1.7"/>
<line x1="859.12" y1="496.70" x2="859.12" y2="490.70" stroke-width="2.1"/>
<line x1="859.12" y1="1.90" x2="859.12" y2="7.90" stroke-width="2.1"/>
<line x1="874.99" y1="496.70" x2="874.99" y2="492.90" stroke-width="1.7"/>
<line x1="874.99" y1="1.90" x2="874.99" y2="5.70" stroke-width="1.7"/>
<line x1="890.87" y1="496.70" x2="890.87" y2="492.90" stroke-width="1.7"/>
<line x1="890.87" y1="1.90" x2="890.87" y2="5.70" stroke-width="1.7"/>
<line x1="900.15" y1="496.70" x2="900.15" y2="492.90" stroke-width="1.7"/>
<line x1="900.15" y1="1.90" x2="900.15" y2="5.70" stroke-width="1.7"/>
<line x1="906.74" y1="496.70" x2="906.74" y2="492.90" stroke-width="1.7"/>
<line x1="906.74" y1="1.90" x2="906.74" y2="5.70" stroke-width="1.7"/>
<line x1="911.85" y1="496.70" x2="911.85" y2="490.70" stroke-width="2.1"/>
<line x1="911.85" y1="1.90" x2="911.85" y2="7.90" stroke-width="2.1"/>
<line x1="927.72" y1="496.70" x2="927.72" y2="492.90" stroke-width="1.7"/>
<line x1="927.72" y1="1.90" x2="927.72" y2="5.70" stroke-width="1.7"/>
<line x1="943.60" y1="496.70" x2="943.60" y2="492.90" stroke-width="1.7"/>
<line x1="943.60" y1="1.90" x2="943.60" y2="5.70" stroke-width="1.7"/>
<line x1="952.88" y1="496.70" x2="952.88" y2="492.90" stroke-width="1.7"/>
<line x1="952.88" y1="1.90" x2="952.88" y2="5.70" stroke-width="1.7"/>
<line x1="959.47" y1="496.70" x2="959.47" y2="492.90" stroke-width="1.7"/>
<line x1="959.47" y1="1.90" x2="959.47" y2="5.70" stroke-width="1.7"/>
<line x1="964.58" y1="496.70" x2="964.58" y2="490.70" stroke-width="2.1"/>
<line x1="964.58" y1="1.90" x2="964.58" y2="7.90" stroke-width="2.1"/>
<line x1="980.45" y1="496.70" x2="980.45" y2="492.90" stroke-width="1.7"/>
<line x1="980.45" y1="1.90" x2="980.45" y2="5.70" stroke-width="1.7"/>
<line x1="996.33" y1="496.70" x2="996.33" y2="492.90" stroke-width="1.7"/>
<line x1="996.33" y1="1.90" x2="996.33" y2="5.70" stroke-width="1.7"/>
<line x1="1005.61" y1="496.70" x2="1005.61" y2="492.90" stroke-width="1.7"/>
<line x1="1005.61" y1="1.90" x2="1005.61" y2="5.70" stroke-width="1.7"/>
<line x1="1012.20" y1="496.70" x2="1012.20" y2="492.90" stroke-width="1.7"/>
<line x1="1012.20" y1="1.90" x2="1012.20" y2="5.70" stroke-width="1.7"/>
<line x1="1017.31" y1="496.70" x2="1017.31" y2="490.70" stroke-width="2.1"/>
<line x1="1017.31" y1="1.90" x2="1017.31" y2="7.90" stroke-width="2.1"/>
<line x1="1033.18" y1="496.70" x2="1033.18" y2="492.90" stroke-width="1.7"/>
<line x1="1033.18" y1="1.90" x2="1033.18" y2="5.70" stroke-width="1.7"/>
<line x1="1049.06" y1="496.70" x2="1049.06" y2="492.90" stroke-width="1.7"/>
<line x1="1049.06" y1="1.90" x2="1049.06" y2="5.70" stroke-width="1.7"/>
<line x1="1058.34" y1="496.70" x2="1058.34" y2="492.90" stroke-width="1.7"/>
<line x1="1058.34" y1="1.90" x2="1058.34" y2="5.70" stroke-width="1.7"/>
<line x1="1064.93" y1="496.70" x2="1064.93" y2="492.90" stroke-width="1.7"/>
<line x1="1064.93" y1="1.90" x2="1064.93" y2="5.70" stroke-width="1.7"/>
<line x1="1070.04" y1="496.70" x2="1070.04" y2="490.70" stroke-width="2.1"/>
<line x1="1070.04" y1="1.90" x2="1070.04" y2="7.90" stroke-width="2.1"/>
<line x1="1085.91" y1="496.70" x2="1085.91" y2="492.90" stroke-width="1.7"/>
<line x1="1085.91" y1="1.90" x2="1085.91" y2="5.70" stroke-width="1.7"/>
<line x1="1101.79" y1="496.70" x2="1101.79" y2="492.90" stroke-width="1.7"/>
<line x1="1101.79" y1="1.90" x2="1101.79" y2="5.70" stroke-width="1.7"/>
<line x1="1111.07" y1="496.70" x2="1111.07" y2="492.90" stroke-width="1.7"/>
<line x1="1111.07" y1="1.90" x2="1111.07" y2="5.70" stroke-width="1.7"/>
<line x1="1117.66" y1="496.70" x2="1117.66" y2="492.90" stroke-width="1.7"/>
<line x1="1117.66" y1="1.90" x2="1117.66" y2="5.70" stroke-width="1.7"/>
<line x1="1122.77" y1="496.70" x2="1122.77" y2="490.70" stroke-width="2.1"/>
<line x1="1122.77" y1="1.90" x2="1122.77" y2="7.90" stroke-width="2.1"/>
<line x1="1138.64" y1="496.70" x2="1138.64" y2="492.90" stroke-width="1.7"/>
<line x1="1138.64" y1="1.90" x2="1138.64" y2="5.70" stroke-width="1.7"/>
<line x1="1154.52" y1="496.70" x2="1154.52" y2="492.90" stroke-width="1.7"/>
<line x1="1154.52" y1="1.90" x2="1154.52" y2="5.70" stroke-width="1.7"/>
<line x1="1163.80" y1="496.70" x2="1163.80" y2="492.90" stroke-width="1.7"/>
<line x1="1163.80" y1="1.90" x2="1163.80" y2="5.70" stroke-width="1.7"/>
<line x1="1170.39" y1="496.70" x2="1170.39" y2="492.90" stroke-width="1.7"/>
<line x1="1170.39" y1="1.90" x2="1170.39" y2="5.70" stroke-width="1.7"/>
<line x1="1175.50" y1="496.70" x2="1175.50" y2="490.70" stroke-width="2.1"/>
<line x1="1175.50" y1="1.90" x2="1175.50" y2="7.90" stroke-width="2.1"/>
<line x1="1191.37" y1="496.70" x2="1191.37" y2="492.90" stroke-width="1.7"/>
<line x1="1191.37" y1="1.90" x2="1191.37" y2="5.70" stroke-width="1.7"/>
<line x1="1207.25" y1="496.70" x2="1207.25" y2="492.90" stroke-width="1.7"/>
<line x1="1207.25" y1="1.90" x2="1207.25" y2="5.70" stroke-width="1.7"/>
<line x1="1216.53" y1="496.70" x2="1216.53" y2="492.90" stroke-width="1.7"/>
<line x1="1216.53" y1="1.90" x2="1216.53" y2="5.70" stroke-width="1.7"/>
</g>
<rect x="72.0" y="1.9" width="569.00" height="494.80" fill="none" stroke="#000" stroke-width="1.6"/>
<rect x="653.7" y="1.9" width="569.30" height="494.80" fill="none" stroke="#000" stroke-width="1.6"/>
<g class="tk">
<text transform="translate(65.1 481.80) scale(0.94 1)" text-anchor="end">0.0</text>
<text transform="translate(65.1 426.57) scale(0.94 1)" text-anchor="end">2.5</text>
<text transform="translate(65.1 371.35) scale(0.94 1)" text-anchor="end">5.0</text>
<text transform="translate(65.1 316.12) scale(0.94 1)" text-anchor="end">7.5</text>
<text transform="translate(65.1 260.90) scale(0.94 1)" text-anchor="end">10.0</text>
<text transform="translate(65.1 205.67) scale(0.94 1)" text-anchor="end">12.5</text>
<text transform="translate(65.1 150.45) scale(0.94 1)" text-anchor="end">15.0</text>
<text transform="translate(65.1 95.22) scale(0.94 1)" text-anchor="end">17.5</text>
<text transform="translate(65.1 40.00) scale(0.94 1)" text-anchor="end">20.0</text>
<text x="97.70" y="517.4" text-anchor="middle">0</text>
<text x="171.64" y="517.4" text-anchor="middle">1</text>
<text x="245.58" y="517.4" text-anchor="middle">2</text>
<text x="319.52" y="517.4" text-anchor="middle">3</text>
<text x="393.46" y="517.4" text-anchor="middle">4</text>
<text x="467.40" y="517.4" text-anchor="middle">5</text>
<text x="541.34" y="517.4" text-anchor="middle">6</text>
<text x="615.28" y="517.4" text-anchor="middle">7</text>
<text transform="translate(683.43 521.3) scale(0.975 1)">10<tspan dy="-11.3" dx="-1.0" font-size="14px">−9</tspan></text>
<text transform="translate(736.16 521.3) scale(0.975 1)">10<tspan dy="-11.3" dx="-1.0" font-size="14px">−8</tspan></text>
<text transform="translate(788.89 521.3) scale(0.975 1)">10<tspan dy="-11.3" dx="-1.0" font-size="14px">−7</tspan></text>
<text transform="translate(841.62 521.3) scale(0.975 1)">10<tspan dy="-11.3" dx="-1.0" font-size="14px">−6</tspan></text>
<text transform="translate(894.35 521.3) scale(0.975 1)">10<tspan dy="-11.3" dx="-1.0" font-size="14px">−5</tspan></text>
<text transform="translate(947.08 521.3) scale(0.975 1)">10<tspan dy="-11.3" dx="-1.0" font-size="14px">−4</tspan></text>
<text transform="translate(999.81 521.3) scale(0.975 1)">10<tspan dy="-11.3" dx="-1.0" font-size="14px">−3</tspan></text>
<text transform="translate(1052.54 521.3) scale(0.975 1)">10<tspan dy="-11.3" dx="-1.0" font-size="14px">−2</tspan></text>
<text transform="translate(1105.27 521.3) scale(0.975 1)">10<tspan dy="-11.3" dx="-1.0" font-size="14px">−1</tspan></text>
<text transform="translate(1158.00 521.3) scale(0.975 1)">10<tspan dy="-11.3" dx="-1.0" font-size="14px">0</tspan></text>
</g>
<g class="sn" stroke="#000" stroke-width="0.3">
<text><tspan x="338.8" y="545.3" font-size="24.9px" class="dj" style="stroke:#000;stroke-width:0.4px">J</tspan><tspan x="346.2" y="549.6" font-size="18.2px">low</tspan></text>
<text x="937.4" y="550.3" font-size="24px" class="dj" style="stroke:#000;stroke-width:0.45px" text-anchor="middle">τ</text>
<text transform="translate(20.0 326.6) rotate(-90)" font-size="26px"><tspan class="i">T</tspan><tspan dy="4.5" font-size="18.2px">ex</tspan><tspan dy="-4.5" dx="5.8">−</tspan><tspan dx="5.3" class="i">T</tspan><tspan dy="4.5" font-size="18.2px">CMB</tspan><tspan dy="-4.5" dx="3">[K]</tspan></text>
<text x="84.0" y="39.7" font-size="30px">(a)</text>
<text x="665.8" y="39.7" font-size="30px">(b)</text>
</g>
<rect x="134.2" y="15.6" width="244.6" height="161.4" rx="3" ry="3" fill="#fff" fill-opacity="0.8" stroke="#cccccc" stroke-width="1.3"/>
<circle cx="155.70" cy="31.10" r="4.30" fill="#000" stroke="#000" stroke-width="0.5"/>
<path d="M155.70 53.00L151.40 61.60L160.00 61.60Z" fill="#000" stroke="#000" stroke-width="0.5" stroke-linejoin="miter"/>
<rect x="151.40" y="79.00" width="8.60" height="8.60" fill="#000" stroke="#000" stroke-width="0.5"/>
<line x1="139.3" y1="111.00" x2="172.1" y2="111.00" stroke="#000" stroke-width="1.8"/>
<line x1="139.3" y1="136.20" x2="172.1" y2="136.20" stroke="#000" stroke-width="1.8" stroke-dasharray="5.92 2.56"/>
<line x1="139.3" y1="161.60" x2="172.1" y2="161.60" stroke="#000" stroke-width="1.8" stroke-dasharray="1.6 2.64"/>
<g class="sn" font-size="15px" stroke="#000" stroke-width="0.35">
<text y="35.7"><tspan x="183.6" class="i">n</tspan><tspan x="192.0" dy="3.2" font-size="10.5px">H</tspan><tspan x="200.0" dy="1.7" font-size="7.6px">2</tspan><tspan x="208.2" dy="-4.9">=</tspan><tspan x="220.8">10</tspan><tspan x="237.0" dy="-6.0" font-size="10.5px">2</tspan><tspan x="249.4" dy="6.0">cm</tspan><tspan x="270.4" dy="-6.0" font-size="10.5px">−3</tspan></text>
<text y="61.9"><tspan x="183.6" class="i">n</tspan><tspan x="192.0" dy="3.2" font-size="10.5px">H</tspan><tspan x="200.0" dy="1.7" font-size="7.6px">2</tspan><tspan x="208.2" dy="-4.9">=</tspan><tspan x="220.8">10</tspan><tspan x="237.0" dy="-6.0" font-size="10.5px">3</tspan><tspan x="249.4" dy="6.0">cm</tspan><tspan x="270.4" dy="-6.0" font-size="10.5px">−3</tspan></text>
<text y="87.9"><tspan x="183.6" class="i">n</tspan><tspan x="192.0" dy="3.2" font-size="10.5px">H</tspan><tspan x="200.0" dy="1.7" font-size="7.6px">2</tspan><tspan x="208.2" dy="-4.9">=</tspan><tspan x="220.8">10</tspan><tspan x="237.0" dy="-6.0" font-size="10.5px">4</tspan><tspan x="249.4" dy="6.0">cm</tspan><tspan x="270.4" dy="-6.0" font-size="10.5px">−3</tspan></text>
<text y="115.6"><tspan x="183.4" class="i">N</tspan><tspan x="194.4">/Δ</tspan><tspan x="209.6" class="i">V</tspan><tspan x="223.6">=</tspan><tspan x="234.8">10</tspan><tspan x="250.6" dy="-6.0" font-size="10.5px">11</tspan><tspan x="269.4" dy="6.0">cm</tspan><tspan x="290.0" dy="-6.0" font-size="10.5px">−2</tspan><tspan x="302.2" dy="6.0">(km</tspan><tspan x="332.5">s</tspan><tspan x="340.4" dy="-6.0" font-size="10.5px">−1</tspan><tspan x="352.2" dy="6.0">)</tspan><tspan x="357.7" dy="-6.0" font-size="10.5px">−1</tspan></text>
<text y="140.8"><tspan x="183.4" class="i">N</tspan><tspan x="194.4">/Δ</tspan><tspan x="209.6" class="i">V</tspan><tspan x="223.6">=</tspan><tspan x="234.8">10</tspan><tspan x="250.6" dy="-6.0" font-size="10.5px">12</tspan><tspan x="269.4" dy="6.0">cm</tspan><tspan x="290.0" dy="-6.0" font-size="10.5px">−2</tspan><tspan x="302.2" dy="6.0">(km</tspan><tspan x="332.5">s</tspan><tspan x="340.4" dy="-6.0" font-size="10.5px">−1</tspan><tspan x="352.2" dy="6.0">)</tspan><tspan x="357.7" dy="-6.0" font-size="10.5px">−1</tspan></text>
<text y="166.2"><tspan x="183.4" class="i">N</tspan><tspan x="194.4">/Δ</tspan><tspan x="209.6" class="i">V</tspan><tspan x="223.6">=</tspan><tspan x="234.8">10</tspan><tspan x="250.6" dy="-6.0" font-size="10.5px">13</tspan><tspan x="269.4" dy="6.0">cm</tspan><tspan x="290.0" dy="-6.0" font-size="10.5px">−2</tspan><tspan x="302.2" dy="6.0">(km</tspan><tspan x="332.5">s</tspan><tspan x="340.4" dy="-6.0" font-size="10.5px">−1</tspan><tspan x="352.2" dy="6.0">)</tspan><tspan x="357.7" dy="-6.0" font-size="10.5px">−1</tspan></text>
</g>
<rect x="1237.4" y="442.10" width="14.60" height="55.60" fill="#808080"/>
<rect x="1237.4" y="386.80" width="14.60" height="55.60" fill="#800080"/>
<rect x="1237.4" y="331.50" width="14.60" height="55.60" fill="#0000ff"/>
<rect x="1237.4" y="276.20" width="14.60" height="55.60" fill="#00ffff"/>
<rect x="1237.4" y="220.90" width="14.60" height="55.60" fill="#008000"/>
<rect x="1237.4" y="165.60" width="14.60" height="55.60" fill="#ffd700"/>
<rect x="1237.4" y="110.30" width="14.60" height="55.60" fill="#ffa500"/>
<rect x="1237.4" y="55.00" width="14.60" height="55.60" fill="#ff0000"/>
<rect x="1237.4" y="55.0" width="14.60" height="442.40" fill="none" stroke="#000" stroke-width="1.4"/>
<g stroke="#000" stroke-width="1.6">
<line x1="1252.0" y1="469.75" x2="1247.5" y2="469.75"/>
<line x1="1252.0" y1="414.45" x2="1247.5" y2="414.45"/>
<line x1="1252.0" y1="359.15" x2="1247.5" y2="359.15"/>
<line x1="1252.0" y1="303.85" x2="1247.5" y2="303.85"/>
<line x1="1252.0" y1="248.55" x2="1247.5" y2="248.55"/>
<line x1="1252.0" y1="193.25" x2="1247.5" y2="193.25"/>
<line x1="1252.0" y1="137.95" x2="1247.5" y2="137.95"/>
<line x1="1252.0" y1="82.65" x2="1247.5" y2="82.65"/>
</g>
<g class="ck">
<text x="1260.4" y="475.15">0</text>
<text x="1260.4" y="419.85">1</text>
<text x="1260.4" y="364.55">2</text>
<text x="1260.4" y="309.25">3</text>
<text x="1260.4" y="253.95">4</text>
<text x="1260.4" y="198.65">5</text>
<text x="1260.4" y="143.35">6</text>
<text x="1260.4" y="88.05">7</text>
</g>
<g class="sn" transform="translate(1252.6 41.2) rotate(-90)">
<text><tspan x="3.3" y="-3.6" font-size="18.5px" class="dj" style="stroke:#000;stroke-width:0.3px">J</tspan><tspan x="8.0" y="0.0" font-size="12.8px" stroke="#000" stroke-width="0.25">low</tspan></text>
</g>
</svg></body></html>
